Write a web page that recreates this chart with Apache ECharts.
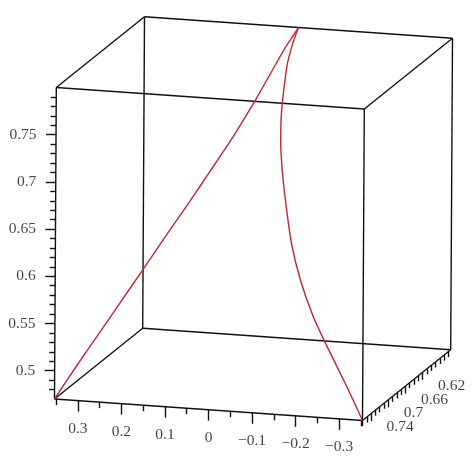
<!DOCTYPE html>
<html>
<head>
<meta charset="utf-8">
<script src="https://cdn.jsdelivr.net/npm/echarts@6/dist/echarts.min.js"></script>
<style>html,body{margin:0;padding:0;background:#fff;}#c{width:474px;height:474px;}</style>
</head>
<body>
<div id="c"></div>
<script>
// ---- data (3D curve) ----
const curveX = [0.3536, 0.3124, 0.2617, 0.2218, 0.1804, 0.1432, 0.1107, 0.0836, 0.0566, 0.0414, 0.0314, 0.0137, 0.0059, 0.0000,
                -0.0059, -0.0137, -0.0314, -0.0414, -0.0566, -0.0836, -0.1107, -0.1432, -0.1804, -0.2218, -0.2617, -0.3124, -0.3536];
const curveY = [0.7600, 0.7545, 0.7483, 0.7424, 0.7306, 0.7142, 0.6933, 0.6745, 0.6524, 0.6364, 0.6234, 0.5951, 0.5753, 0.5546,
                0.5753, 0.5951, 0.6234, 0.6364, 0.6524, 0.6745, 0.6933, 0.7142, 0.7306, 0.7424, 0.7483, 0.7545, 0.7600];
const curveZ = [0.4700, 0.5019, 0.5395, 0.5696, 0.6025, 0.6343, 0.6632, 0.6886, 0.7153, 0.7333, 0.7463, 0.7741, 0.7889, 0.8000,
                0.7889, 0.7741, 0.7463, 0.7333, 0.7153, 0.6886, 0.6632, 0.6343, 0.6025, 0.5696, 0.5395, 0.5019, 0.4700];
const topIndex = 13;

// axis ranges
const xRange = [-0.3536, 0.3536];
const yRange = [0.5546, 0.76];
const zRange = [0.47, 0.80];

// tick labels
const xTickValues = [0.3, 0.2, 0.1, 0, -0.1, -0.2, -0.3];
const xTickLabels = ['0.3', '0.2', '0.1', '0', '\u22120.1', '\u22120.2', '\u22120.3'];
const yTickValues = [0.62, 0.66, 0.70, 0.74];
const yTickLabels = ['0.62', '0.66', '0.7', '0.74'];
const zTickValues = [0.5, 0.55, 0.6, 0.65, 0.7, 0.75];
const zTickLabels = ['0.5', '0.55', '0.6', '0.65', '0.7', '0.75'];

// ---- projection (layout) ----
const O = [54.5, 399], AX = [308, 21.5], AY = [88.2, -70.7], AZ = [1.8, -311.5];
function proj(x, y, z) {
  const u = (xRange[1] - x) / (xRange[1] - xRange[0]);
  const v = (yRange[1] - y) / (yRange[1] - yRange[0]);
  const w = (z - zRange[0]) / (zRange[1] - zRange[0]);
  return [O[0] + u * AX[0] + v * AY[0] + w * AZ[0], O[1] + u * AX[1] + v * AY[1] + w * AZ[1]];
}

const segs = [];
// box edges
const xs = xRange, ys = yRange, zs = zRange;
const corner = (i, j, k) => proj(xs[i], ys[j], zs[k]);
for (let j = 0; j < 2; j++) for (let k = 0; k < 2; k++) segs.push([corner(0, j, k), corner(1, j, k)]);
for (let i = 0; i < 2; i++) for (let k = 0; k < 2; k++) segs.push([corner(i, 0, k), corner(i, 1, k)]);
for (let i = 0; i < 2; i++) for (let j = 0; j < 2; j++) segs.push([corner(i, j, 0), corner(i, j, 1)]);

const near = (a, b) => Math.abs(a - b) < 1e-6;
// z ticks on front-left edge
for (let n = 48; n <= 79; n++) {
  const z = n / 100;
  const p = proj(xRange[1], yRange[1], z);
  const major = zTickValues.some(t => near(t, z));
  segs.push([p, [p[0] - (major ? 10 : 5.5), p[1]]]);
}
// x ticks on front-bottom edge
for (let n = -7; n <= 7; n++) {
  const x = n * 0.05;
  const p = proj(x, yRange[1], zRange[0]);
  const major = n % 2 === 0;
  segs.push([p, [p[0], p[1] + (major ? 11 : 6)]]);
}
// y ticks on right-bottom edge
for (let n = 56; n <= 76; n++) {
  const y = n / 100;
  const p = proj(xRange[0], y, zRange[0]);
  const major = yTickValues.some(t => near(t, y));
  segs.push([p, [p[0], p[1] + (major ? 7.5 : 5.5)]]);
}

const pts = curveX.map((x, i) => proj(x, curveY[i], curveZ[i]));
const leftBranch = pts.slice(0, topIndex + 1);
const rightBranch = pts.slice(topIndex);

const labelFont = { fontFamily: 'Liberation Serif', fontSize: 15.5, color: '#111' };
const zLab = zTickValues.map((z, i) => ({ name: zTickLabels[i], value: proj(xRange[1], yRange[1], z) }));
const xLab = xTickValues.map((x, i) => ({ name: xTickLabels[i], value: proj(x, yRange[1], zRange[0]) }));
const yLab = yTickValues.map((y, i) => ({ name: yTickLabels[i], value: proj(xRange[0], y, zRange[0]) }));

function labelSeries(data, pos, align) {
  return {
    type: 'scatter', data: data, symbolSize: 0, silent: true,
    label: Object.assign({ show: true, formatter: '{b}', position: pos, align: align, verticalAlign: 'middle' }, labelFont)
  };
}

const chart = echarts.init(document.getElementById('c'), null, { renderer: 'canvas' });
chart.setOption({
  animation: false,
  backgroundColor: '#fff',
  grid: { left: 0, top: 0, width: 474, height: 474 },
  xAxis: { type: 'value', min: 0, max: 474, show: false },
  yAxis: { type: 'value', min: 0, max: 474, inverse: true, show: false },
  series: [
    {
      type: 'lines', coordinateSystem: 'cartesian2d', silent: true,
      data: segs.map(s => ({ coords: s })),
      lineStyle: { color: '#111', width: 1.4, opacity: 1, curveness: 0 }
    },
    { type: 'line', data: leftBranch, showSymbol: false, smooth: 0.25, lineStyle: { color: '#c4262c', width: 1.4 }, silent: true },
    { type: 'line', data: rightBranch, showSymbol: false, smooth: 0.25, lineStyle: { color: '#c4262c', width: 1.4 }, silent: true },
    labelSeries(zLab, [-19.5, 0], 'right'),
    labelSeries(xLab, [0, 28.5], 'center'),
    labelSeries(yLab, [15.5, 13.5], 'left')
  ]
});
</script>
</body>
</html>
